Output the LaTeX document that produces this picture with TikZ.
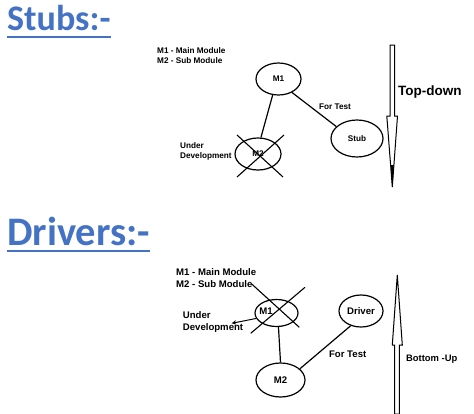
\documentclass[tikz,border=0pt]{standalone}
\usepackage{fontspec}
\usetikzlibrary{shapes.geometric}
\newfontfamily\labelfont{Liberation Sans}
\newfontfamily\titlefont{Carlito}
\definecolor{titleblue}{HTML}{4472C4}
\tikzset{
  titletxt/.style={anchor=base west, inner sep=0pt, text=titleblue, font=\titlefont\bfseries\fontsize{#1}{#1}\selectfont},
  toptxt/.style={inner sep=0pt, font=\labelfont\bfseries\fontsize{8.2}{10}\selectfont},
  bottxt/.style={inner sep=0pt, font=\labelfont\bfseries\fontsize{9.6}{11.8}\selectfont},
  module/.style={draw, ellipse, line width=1.2pt, inner sep=0pt},
  link/.style={line width=1.2pt},
  crossout/.style={line width=1.1pt},
  bigarrow/.style={draw, fill=white, line width=1pt, line join=miter}
}

\begin{document}
\begin{tikzpicture}[x=1pt,y=-1pt]
  \useasboundingbox (0,0) rectangle (474,413);

  % Stubs
  \node[titletxt=36] (stubs) at (7,30.7) {Stubs:-};
  \draw[titleblue, line width=2pt] ([yshift=-6.6pt]stubs.base west) -- ([yshift=-6.6pt]stubs.base east);

  \node[toptxt, anchor=west, align=left] (legendA) at (157,56) {M1 - Main Module\\M2 - Sub Module};

  \node[module, minimum width=45, minimum height=32, toptxt] (mone) at (278.5,79) {M1};
  \node[module, minimum width=46, minimum height=32, toptxt] (mtwo) at (258,154) {M2};
  \node[module, minimum width=52, minimum height=37, toptxt] (stub) at (357,138.5) {Stub};

  \draw[link] (mone.250) -- (mtwo.80);
  \draw[link] (mone.-45) -- (stub.150);
  \node[toptxt] (testA) at (335,107) {For Test};
  \node[toptxt, anchor=west, align=left] (devA) at (180,151) {Under\\Development};

  \draw[crossout] (237,177) -- (284,135);
  \draw[crossout] (237,135) -- (283,177);

  % top-down arrow
  \draw[bigarrow] (390,45) -- (394.5,45) -- (394.5,116) -- (397.5,116) -- (392.3,187)
    -- (386.8,116) -- (390,116) -- cycle;
  \fill (390.6,165) -- (393.8,165) -- (392.3,187) -- cycle;
  \node[inner sep=0pt, anchor=west, font=\labelfont\bfseries\fontsize{13.5}{16}\selectfont] (topdown) at (398,92) {Top-down};

  % Drivers
  \node[titletxt=40.5] (drivers) at (7,245) {Drivers:-};
  \draw[titleblue, line width=2pt] ([yshift=-6.3pt]drivers.base west) -- ([yshift=-6.3pt]drivers.base east);

  \node[bottxt, anchor=west, align=left] (legendB) at (176,278) {M1 - Main Module\\M2 - Sub Module};

  \node[module, minimum width=43, minimum height=27] (mthree) at (276.5,313) {};
  \node[bottxt] (mthreetxt) at (266,311) {M1};
  \node[module, minimum width=44, minimum height=32, bottxt] (driver) at (361,311) {Driver};
  \node[module, minimum width=49, minimum height=34, bottxt] (mfour) at (280.5,380) {M2};

  \draw[link] (mthree.-82) -- (mfour.north);
  \draw[link] (mfour.30) -- (driver.235);
  \node[bottxt] (testB) at (347.7,354.3) {For Test};
  \node[bottxt, anchor=west, align=left] (devB) at (182.7,322) {Under\\Development};
  \draw[-stealth, line width=1pt] (mthree.195) -- (231.7,323.3);

  \draw[crossout] (251.7,284) -- (299.3,327.3);
  \draw[crossout] (305,287.3) -- (250.7,333.3);

  % bottom-up arrow
  \draw[bigarrow] (397.3,275) -- (402.3,345) -- (399.3,345) -- (399.3,414) -- (394.7,414)
    -- (394.7,345) -- (392.3,345) -- cycle;
  \node[inner sep=0pt, anchor=west, font=\labelfont\bfseries\fontsize{9.4}{11}\selectfont] (bottomup) at (406,359) {Bottom -Up};
\end{tikzpicture}
\end{document}
